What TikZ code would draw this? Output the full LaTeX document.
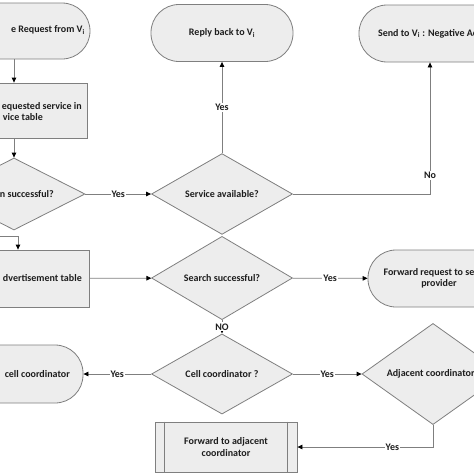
\documentclass[tikz,border=0pt]{standalone}
\usepackage{fontspec}
\setmainfont{Carlito}
\usetikzlibrary{arrows.meta,shapes.geometric}
\definecolor{fillg}{HTML}{EDEDED}
\definecolor{edgeg}{HTML}{7F7F7F}
\definecolor{txt}{HTML}{1E1E1E}
\begin{document}
\begin{tikzpicture}[x=1pt,y=-1pt,
  font=\fontsize{10}{11.5}\selectfont\bfseries, text=txt,
  term/.style={draw=edgeg, fill=fillg, line width=0.8pt, rounded corners=28pt,
    minimum width=142pt, minimum height=57pt, inner sep=0pt, align=center},
  proc/.style={draw=edgeg, fill=fillg, line width=0.8pt,
    minimum width=142pt, minimum height=57pt, inner sep=0pt, align=center},
  dec/.style={diamond, draw=edgeg, fill=fillg, line width=0.8pt,
    minimum width=141pt, minimum height=72pt, inner sep=0pt, align=center},
  arr/.style={draw=edgeg, line width=0.8pt, -{Triangle[length=5pt,width=4.5pt,color=black]}},
  lab/.style={fill=white, inner sep=1pt},
  txtonly/.style={inner sep=0pt, anchor=east}]
\useasboundingbox (0,0) rectangle (474,474);
\clip (0,0) rectangle (474,474);
% top row
\node[term, minimum width=152pt, minimum height=56pt] (T1) at (14,31) {};
\node[txtonly] (T1t) at (85,30) {e Request from V\textsubscript{i}};
\node[term] (T2) at (222,33) {Reply back to V\textsubscript{i}};
\node[term] (T3) at (430,33.5) {Send to V\textsubscript{i} : Negative Ack};
% second column
\node[proc, minimum width=146pt, minimum height=55pt] (R1) at (14,110.5) {};
\node[txtonly] (R1a) at (82,107) {equested service in};
\node[txtonly] (R1b) at (43,117) {vice table};
\node[dec, minimum width=142pt] (D1) at (14,194) {};
\node[txtonly] (D1t) at (54,194) {n successful?};
\node[dec] (D2) at (222,194) {Service available?};
% middle row
\node[proc] (R2) at (18,278.5) {};
\node[txtonly] (R2t) at (82,278) {dvertisement table};
\node[dec] (D3) at (222,278) {Search successful?};
\node[term] (T4) at (439,278.5) {Forward request to service\\provider};
% lower row
\node[term, minimum height=58pt] (T5) at (12,374) {};
\node[txtonly] (T5t) at (70,374) {cell coordinator};
\node[dec] (D4) at (222,374) {Cell coordinator ?};
\node[dec, minimum width=142pt] (D5) at (433,374) {Adjacent coordinator?};
\node[proc, minimum height=50pt] (P1) at (226,447) {Forward to adjacent\\coordinator};
\draw[draw=edgeg, line width=0.8pt] ([xshift=10pt]P1.north west) -- ([xshift=10pt]P1.south west);
\draw[draw=edgeg, line width=0.8pt] ([xshift=-10pt]P1.north east) -- ([xshift=-10pt]P1.south east);
% connectors
\coordinate (cin) at (-2,236);
\draw[arr] (T1) -- (R1);
\draw[arr] (R1) -- (D1);
\draw[arr] (D1) -- node[lab]{Yes} (D2);
\draw[arr] (D2) -- node[lab]{Yes} (T2);
\draw[arr] (D2.east) -| node[lab, pos=0.57]{No} (T3.south);
\draw[arr] (cin) -| (R2.north);
\draw[arr] (R2) -- (D3);
\draw[arr] (D3) -- node[lab]{Yes} (T4);
\draw[arr] (D3) -- node[lab]{NO} (D4);
\draw[arr] (D4) -- node[lab]{Yes} (T5);
\draw[arr] (D4) -- node[lab]{Yes} (D5);
\draw[arr] (D5.south) |- node[lab, pos=0.65]{Yes} (P1.east);
\end{tikzpicture}
\end{document}
